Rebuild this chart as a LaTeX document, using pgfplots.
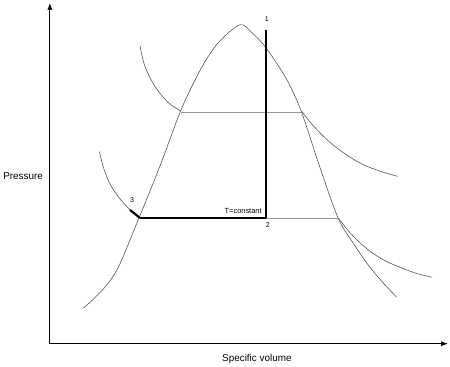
\documentclass[border=0pt]{standalone}
\usepackage{pgfplots}
\pgfplotsset{compat=1.18}
\usepackage{fontspec}
\setmainfont{Liberation Sans}
\usetikzlibrary{arrows.meta}
\definecolor{curve}{HTML}{555555}
\definecolor{hline}{HTML}{999999}
\begin{document}
\begin{tikzpicture}
\begin{axis}[
  scale only axis, width=450pt, height=368pt,
  xmin=0, xmax=450, ymin=0, ymax=368, y dir=reverse,
  hide axis, clip=false,
  every node/.style={font=\fontsize{8.5}{10}\selectfont},
]
\path (axis cs:0,0) rectangle (axis cs:450,368);
% axes
\addplot[black, line width=0.8pt, -{Latex[length=7pt,width=5pt]}] coordinates {(46,347) (46,3)};
\addplot[black, line width=0.8pt, -{Latex[length=7pt,width=5pt]}] coordinates {(46,347) (448,347)};
% dome
\addplot[curve, line width=0.6pt, smooth, tension=0.55] coordinates {
 (80,311) (92,300) (104,287) (116,268) (136,220) (157,168) (178,112) (192,82) (204,60) (218,41) (238,25)
 (250,33) (264,48) (285,80) (300,113) (318,167) (337,220) (352,245) (367,267) (382,285) (396,300)};
% upper isotherm
\addplot[curve, line width=0.6pt, smooth, tension=0.6] coordinates {
 (137,46) (142,67) (152,87) (165,103) (178,112)};
\addplot[curve, line width=0.6pt, smooth, tension=0.6] coordinates {
 (300,112) (312,127) (328,143) (345,156) (362,166) (380,173) (397,178)};
\addplot[hline, line width=0.7pt] coordinates {(178,113) (300,113)};
% lower isotherm
\addplot[curve, line width=0.6pt, smooth, tension=0.6] coordinates {
 (96,153) (101,172) (108,188) (117,201) (127,212)};
\addplot[curve, line width=0.6pt, smooth, tension=0.6] coordinates {
 (337,220) (350,236) (367,252) (384,263) (400,270) (416,276) (432,280)};
\addplot[hline, line width=0.7pt] coordinates {(264,220) (337,220)};
% thick process path
\addplot[black, line width=2.2pt, line join=round] coordinates {(264,30) (264,220) (137,220)};
\addplot[black, line width=2.2pt, smooth] coordinates {(137,220) (132,216) (127,212)};
% labels
\node at (axis cs:265,19) {\fontsize{7}{8}\selectfont 1};
\node at (axis cs:266,227) {\fontsize{7}{8}\selectfont 2};
\node at (axis cs:129,202) {\fontsize{7}{8}\selectfont 3};
\node[anchor=east, inner sep=1pt] at (axis cs:261,213) {\fontsize{7.5}{8}\selectfont T=constant};
\node at (axis cs:19,178) {Pressure};
\node at (axis cs:255,362) {Specific volume};
\end{axis}
\end{tikzpicture}
\end{document}
